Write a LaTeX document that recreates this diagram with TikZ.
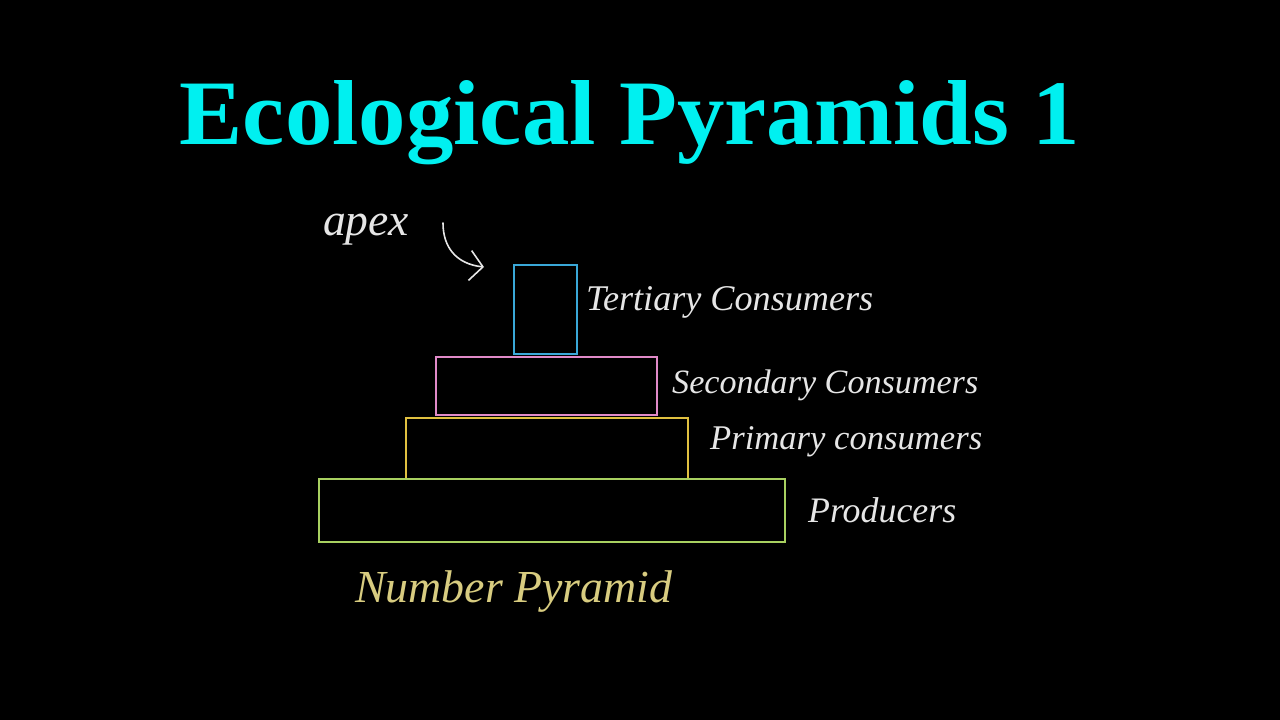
\documentclass[tikz,border=0pt]{standalone}
\usepackage{fontspec}
\setmainfont{Liberation Serif}
\newfontfamily\handfont{Liberation Serif}
\usetikzlibrary{arrows.meta}
\definecolor{titlecyan}{HTML}{00F0F0}
\definecolor{tercol}{HTML}{3AA8D8}
\definecolor{seccol}{HTML}{E08AC8}
\definecolor{pricol}{HTML}{E0C040}
\definecolor{procol}{HTML}{A8D060}
\definecolor{chalk}{HTML}{E6E6E6}
\definecolor{khaki}{HTML}{D8CC80}
\tikzset{
  tier/.style={draw=#1, line width=2pt, inner sep=0pt},
  hand/.style={text=chalk, anchor=west, inner sep=0pt, font=\handfont\itshape},
}
\begin{document}
\begin{tikzpicture}[x=1pt,y=-1pt]
\fill[black] (0,0) rectangle (1280,720);
\useasboundingbox (0,0) rectangle (1280,720);
% title
\node[text=titlecyan, anchor=base, inner sep=0pt] (title) at (630,144)
  {\resizebox{900pt}{64pt}{\bfseries Ecological Pyramids 1}};
% tiers
\node[tier=tercol, minimum width=63pt, minimum height=89pt] (ter) at (545.5,309.5) {};
\node[tier=seccol, minimum width=221pt, minimum height=58pt] (sec) at (546.5,386) {};
\node[tier=pricol, minimum width=282pt, minimum height=61pt] (pri) at (547,448.5) {};
\node[tier=procol, minimum width=466pt, minimum height=63pt] (pro) at (552,510.5) {};
% labels
\node[hand] (lter) at (586,302) {\resizebox{287pt}{!}{Tertiary Consumers}};
\node[hand] (lsec) at (672,385) {\resizebox{306pt}{!}{Secondary Consumers}};
\node[hand] (lpri) at (710,442) {\resizebox{272pt}{!}{Primary consumers}};
\node[hand] (lpro) at (808,510) {\resizebox{148pt}{!}{Producers}};
\node[hand, text=khaki] (lnum) at (355,592) {\resizebox{317pt}{!}{Number Pyramid}};
\node[hand] (apex) at (323,230) {\resizebox{86pt}{!}{apex}};
% arrow
\coordinate (astart) at (443,223);
\coordinate (aend) at (484,267);
\draw[chalk, line width=1.6pt, line cap=round, -{Straight Barb[length=13pt,width=30pt]}]
  (astart) .. controls (443,247) and (456,264) .. (aend);
\end{tikzpicture}
\end{document}
